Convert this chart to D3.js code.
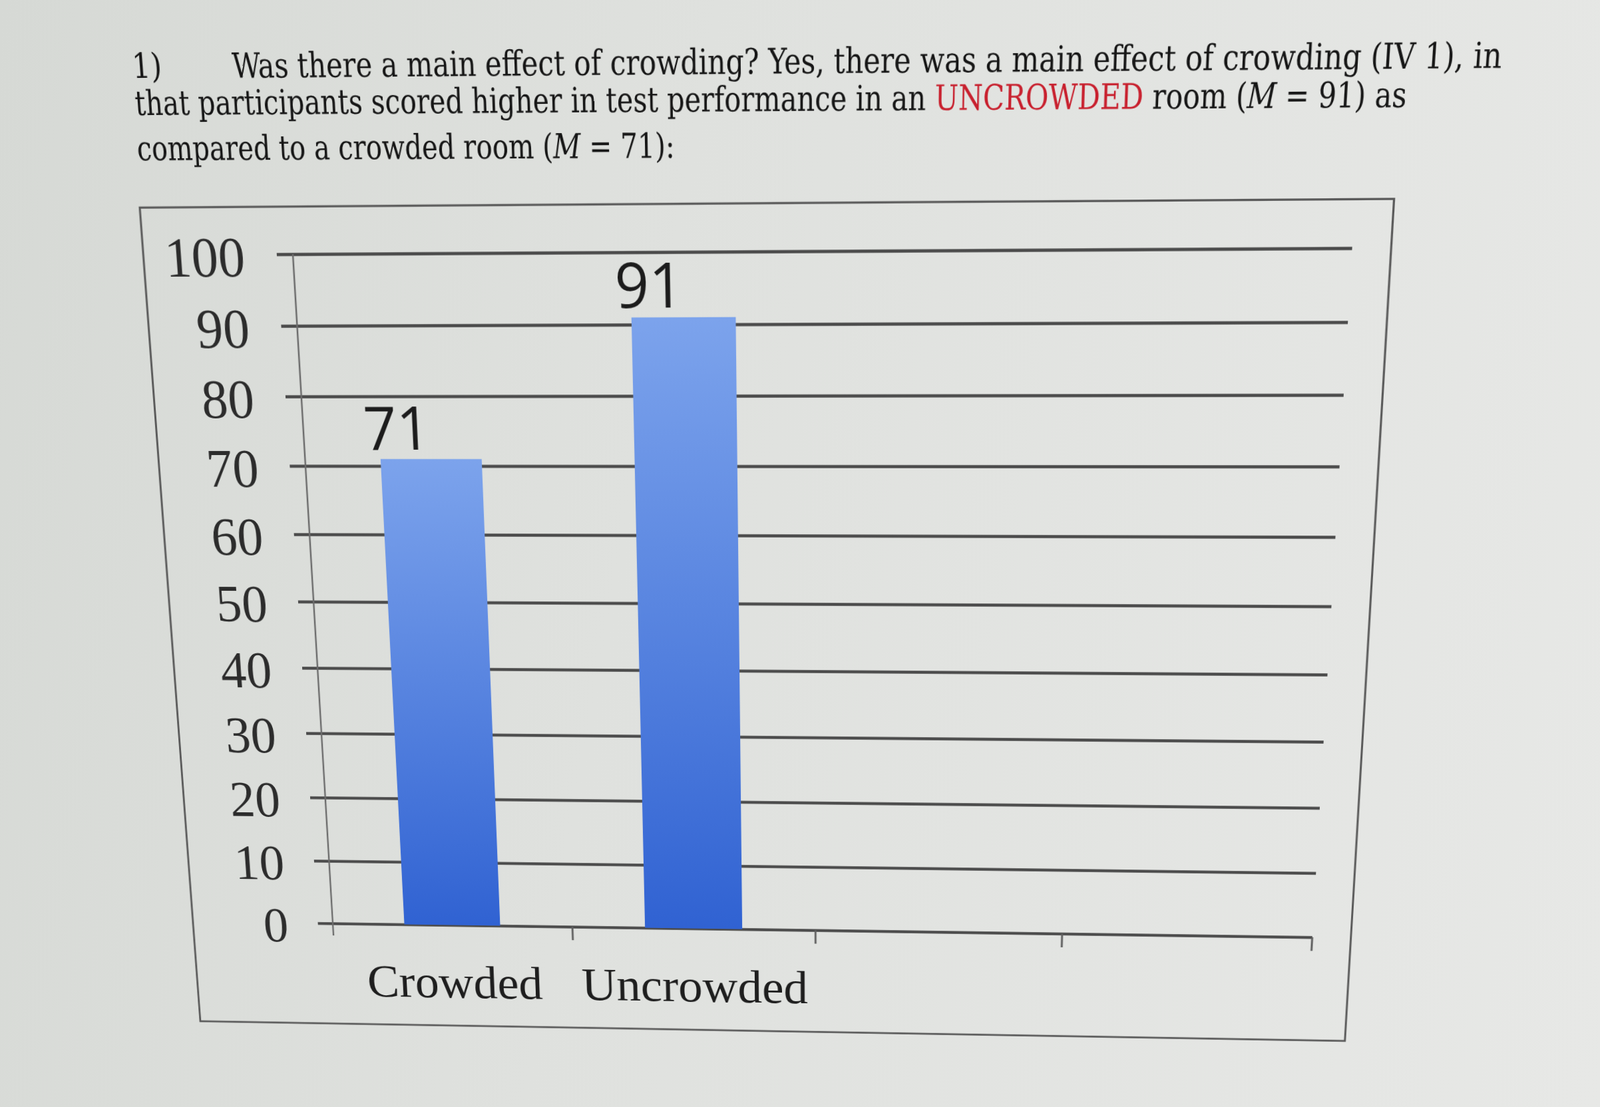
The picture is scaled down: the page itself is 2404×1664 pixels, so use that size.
<!DOCTYPE html>
<html>
<head>
<meta charset="utf-8">
<script src="https://cdn.jsdelivr.net/npm/d3@7"></script>
<style>
  html, body { margin: 0; padding: 0; }
  body {
    width: 2404px; height: 1664px; overflow: hidden; position: relative;
    background: linear-gradient(100deg, #d6d9d5 0%, #dfe1de 40%, #e7e8e6 100%);
  }
  #sheet { position: absolute; left: 0; top: 0; transform-origin: 0 0; overflow: visible; }
</style>
</head>
<body>
<svg id="sheet" width="2404" height="1664"></svg>
<script>
// chart data
const categories = ["Crowded", "Uncrowded", "", ""];
const means = [71, 91];
const yTicks = [0, 10, 20, 30, 40, 50, 60, 70, 80, 90, 100];

// paragraph above the chart
const lineOne = "Was there a main effect of crowding? Yes, there was a main effect of crowding (IV 1), in";
const lineTwo = [
  { t: "that participants scored higher in test performance in an " },
  { t: "UNCROWDED", red: true },
  { t: " room (" }, { t: "M", it: true }, { t: " = 91) as" }
];
const lineThree = [
  { t: "compared to a crowded room (" }, { t: "M", it: true }, { t: " = 71):" }
];

// the photo is taken at an angle: where the plot and frame corners sit in the picture
const plotOnPhoto = [[440, 382], [2032, 373], [1972, 1409], [500, 1388]];
const frameOnPhoto = [[210, 312], [2095, 299], [2021, 1565], [301, 1535]];

const margin = { left: 440, top: 382 };
const width = 1532, height = 1020;

function solveHomography(src, dst) {
  const A = [], b = [];
  for (let i = 0; i < 4; i++) {
    const [x, y] = src[i], [X, Y] = dst[i];
    A.push([x, y, 1, 0, 0, 0, -x * X, -y * X]); b.push(X);
    A.push([0, 0, 0, x, y, 1, -x * Y, -y * Y]); b.push(Y);
  }
  for (let c = 0; c < 8; c++) {
    let p = c;
    for (let r = c + 1; r < 8; r++) if (Math.abs(A[r][c]) > Math.abs(A[p][c])) p = r;
    [A[c], A[p]] = [A[p], A[c]]; [b[c], b[p]] = [b[p], b[c]];
    for (let r = 0; r < 8; r++) {
      if (r === c) continue;
      const f = A[r][c] / A[c][c];
      for (let k = c; k < 8; k++) A[r][k] -= f * A[c][k];
      b[r] -= f * b[c];
    }
  }
  const h = b.map((v, i) => v / A[i][i]);
  return [...h, 1];
}
function project(H, [x, y]) {
  const w = H[6] * x + H[7] * y + H[8];
  return [(H[0] * x + H[1] * y + H[2]) / w, (H[3] * x + H[4] * y + H[5]) / w];
}

const plotLocal = [
  [margin.left, margin.top], [margin.left + width, margin.top],
  [margin.left + width, margin.top + height], [margin.left, margin.top + height]
];
const H = solveHomography(plotLocal, plotOnPhoto);
const Hinv = solveHomography(plotOnPhoto, plotLocal);

const svg = d3.select("#sheet")
  .style("transform", `matrix3d(${H[0]},${H[3]},0,${H[6]},${H[1]},${H[4]},0,${H[7]},0,0,1,0,${H[2]},${H[5]},0,${H[8]})`);

// --- paragraph text
const serif = "'Liberation Serif', 'Times New Roman', serif";
const bodySerif = "'DejaVu Serif', 'Liberation Serif', serif";
function placeLine(parts, start, end) {
  const a = project(Hinv, start), b = project(Hinv, end);
  const angle = Math.atan2(b[1] - a[1], b[0] - a[0]) * 180 / Math.PI;
  const len = Math.hypot(b[0] - a[0], b[1] - a[1]);
  const text = svg.append("text")
    .attr("transform", `translate(${a[0]},${a[1]}) rotate(${angle})`)
    .attr("font-family", bodySerif)
    .attr("font-stretch", "condensed")
    .attr("font-size", 47)
    .attr("fill", "#161616")
    .attr("textLength", len)
    .attr("lengthAdjust", "spacingAndGlyphs");
  parts.forEach(p => {
    text.append("tspan")
      .attr("fill", p.red ? "#c8202e" : null)
      .attr("font-style", p.it ? "italic" : null)
      .text(p.t);
  });
}
{
  const p = project(Hinv, [200, 117]);
  svg.append("text")
    .attr("x", p[0]).attr("y", p[1])
    .attr("font-family", bodySerif).attr("font-stretch", "condensed")
    .attr("font-size", 47).attr("fill", "#161616")
    .text("1)");
}
placeLine([{ t: lineOne }], [350, 117], [2256, 102]);
placeLine(lineTwo, [204, 173], [2113, 161]);
placeLine(lineThree, [207, 241], [1014, 237]);

// --- chart frame
const frame = frameOnPhoto.map(pt => project(Hinv, pt));
svg.append("path")
  .attr("d", "M" + frame.map(p => p.join(",")).join("L") + "Z")
  .attr("fill", "none")
  .attr("stroke", "#5a5a5a")
  .attr("stroke-width", 3);

// --- plot
const g = svg.append("g").attr("transform", `translate(${margin.left},${margin.top})`);

const x = d3.scaleBand()
  .domain(categories.map((c, i) => i))
  .range([0, width])
  .paddingInner(0.6)
  .paddingOuter(0.3);

const y = d3.scaleLinear().domain([0, 100]).range([height, 0]);

const defs = svg.append("defs");
const grad = defs.append("linearGradient")
  .attr("id", "barFill")
  .attr("x1", 0).attr("y1", 0).attr("x2", 0).attr("y2", 1);
grad.append("stop").attr("offset", "0%").attr("stop-color", "#7ca3ec");
grad.append("stop").attr("offset", "100%").attr("stop-color", "#3062d2");

// gridlines with the short outer tick on the left
const outerTick = 24;
const yAxis = g.append("g")
  .attr("transform", `translate(${-outerTick},0)`)
  .call(d3.axisLeft(y)
    .tickValues(yTicks)
    .tickSize(-(width + outerTick))
    .tickPadding(48)
    .tickFormat(d3.format("d")));
yAxis.select(".domain").remove();
yAxis.selectAll(".tick line")
  .attr("stroke", "#4a4a4a")
  .attr("stroke-width", 4.5);
yAxis.selectAll(".tick text")
  .attr("font-family", serif)
  .attr("font-size", 80)
  .attr("fill", "#2c2c2c")
  .attr("dy", "0.38em");

// vertical axis line
g.append("line")
  .attr("x1", 0).attr("x2", 0)
  .attr("y1", y(100)).attr("y2", y(0) + 20)
  .attr("stroke", "#6b6b6b")
  .attr("stroke-width", 2.5);

// category boundary ticks on the x axis
const step = x.step();
g.selectAll(".xtick")
  .data(categories.map((c, i) => i + 1))
  .join("line")
  .attr("class", "xtick")
  .attr("x1", i => i * step).attr("x2", i => i * step)
  .attr("y1", y(0)).attr("y2", y(0) + 22)
  .attr("stroke", "#5e5e5e")
  .attr("stroke-width", 3);

// bars
g.selectAll(".bar")
  .data(means)
  .join("rect")
  .attr("class", "bar")
  .attr("x", (d, i) => x(i))
  .attr("y", d => y(d))
  .attr("width", x.bandwidth())
  .attr("height", d => y(0) - y(d))
  .attr("fill", "url(#barFill)");

// value labels
g.selectAll(".value")
  .data(means)
  .join("text")
  .attr("class", "value")
  .attr("x", (d, i) => x(i) + x.bandwidth() / 2 - 0.13 * step)
  .attr("y", d => y(d) - 14)
  .attr("text-anchor", "middle")
  .attr("font-family", "'Open Sans', 'Liberation Sans', sans-serif")
  .attr("font-size", 88)
  .attr("fill", "#1c1c1c")
  .text(d => d);

// category labels
g.selectAll(".cat")
  .data(categories.filter(c => c))
  .join("text")
  .attr("class", "cat")
  .attr("x", (d, i) => x(i) + x.bandwidth() / 2)
  .attr("y", y(0) + 120)
  .attr("text-anchor", "middle")
  .attr("font-family", serif)
  .attr("font-size", 77)
  .attr("fill", "#1e1e1e")
  .text(d => d);
</script>
</body>
</html>
